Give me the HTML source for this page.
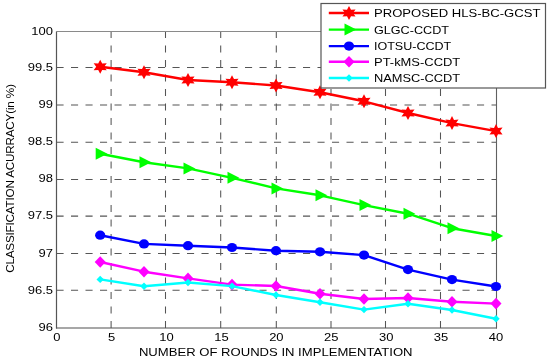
<!DOCTYPE html>
<html><head><meta charset="utf-8"><title>Classification accuracy</title>
<style>html,body{margin:0;padding:0;background:#fff;width:550px;height:360px;overflow:hidden}</style>
</head><body>
<svg width="550" height="360" viewBox="0 0 550 360" style="display:block"><rect width="550" height="360" fill="#fff"/><g stroke="#555" stroke-width="1.05" stroke-dasharray="7.1 7.4" fill="none"><line x1="111.10" y1="328.0" x2="111.10" y2="31.5"/><line x1="165.50" y1="328.0" x2="165.50" y2="31.5"/><line x1="220.70" y1="328.0" x2="220.70" y2="31.5"/><line x1="276.30" y1="328.0" x2="276.30" y2="31.5"/><line x1="331.00" y1="328.0" x2="331.00" y2="31.5"/><line x1="385.50" y1="328.0" x2="385.50" y2="31.5"/><line x1="440.50" y1="328.0" x2="440.50" y2="31.5"/><line x1="56.5" y1="290.30" x2="496.5" y2="290.30"/><line x1="56.5" y1="253.40" x2="496.5" y2="253.40"/><line x1="56.5" y1="216.10" x2="496.5" y2="216.10"/><line x1="56.5" y1="179.50" x2="496.5" y2="179.50"/><line x1="56.5" y1="142.30" x2="496.5" y2="142.30"/><line x1="56.5" y1="104.90" x2="496.5" y2="104.90"/><line x1="56.5" y1="67.50" x2="496.5" y2="67.50"/></g><line x1="56.5" y1="31.5" x2="496.5" y2="31.5" stroke="#8a8a8a" stroke-width="1.1"/><line x1="56.0" y1="328.0" x2="497.0" y2="328.0" stroke="#505050" stroke-width="1.1"/><line x1="56.5" y1="31.5" x2="56.5" y2="328.5" stroke="#555" stroke-width="1.2"/><line x1="496.5" y1="31.5" x2="496.5" y2="328.5" stroke="#606060" stroke-width="1.1"/><g font-family='"Liberation Sans", Arial, Helvetica, sans-serif' fill="#000"><text x="53.19" y="340.80" font-size="11.2" textLength="7.23" lengthAdjust="spacingAndGlyphs">0</text><text x="108.09" y="340.80" font-size="11.2" textLength="7.23" lengthAdjust="spacingAndGlyphs">5</text><text x="159.37" y="340.80" font-size="11.2" textLength="14.45" lengthAdjust="spacingAndGlyphs">10</text><text x="214.27" y="340.80" font-size="11.2" textLength="14.45" lengthAdjust="spacingAndGlyphs">15</text><text x="269.17" y="340.80" font-size="11.2" textLength="14.45" lengthAdjust="spacingAndGlyphs">20</text><text x="324.07" y="340.80" font-size="11.2" textLength="14.45" lengthAdjust="spacingAndGlyphs">25</text><text x="378.97" y="340.80" font-size="11.2" textLength="14.45" lengthAdjust="spacingAndGlyphs">30</text><text x="433.87" y="340.80" font-size="11.2" textLength="14.45" lengthAdjust="spacingAndGlyphs">35</text><text x="488.77" y="340.80" font-size="11.2" textLength="14.45" lengthAdjust="spacingAndGlyphs">40</text><text x="38.55" y="330.90" font-size="11.2" textLength="14.45" lengthAdjust="spacingAndGlyphs">96</text><text x="27.71" y="293.76" font-size="11.2" textLength="25.29" lengthAdjust="spacingAndGlyphs">96.5</text><text x="38.55" y="256.63" font-size="11.2" textLength="14.45" lengthAdjust="spacingAndGlyphs">97</text><text x="27.71" y="219.49" font-size="11.2" textLength="25.29" lengthAdjust="spacingAndGlyphs">97.5</text><text x="38.55" y="182.36" font-size="11.2" textLength="14.45" lengthAdjust="spacingAndGlyphs">98</text><text x="27.71" y="145.22" font-size="11.2" textLength="25.29" lengthAdjust="spacingAndGlyphs">98.5</text><text x="38.55" y="108.09" font-size="11.2" textLength="14.45" lengthAdjust="spacingAndGlyphs">99</text><text x="27.71" y="70.95" font-size="11.2" textLength="25.29" lengthAdjust="spacingAndGlyphs">99.5</text><text x="31.32" y="34.90" font-size="11.2" textLength="21.68" lengthAdjust="spacingAndGlyphs">100</text></g><g font-family='"Liberation Sans", Arial, Helvetica, sans-serif' fill="#000"><text x="138.90" y="355.70" font-size="11.5" textLength="273.63" lengthAdjust="spacingAndGlyphs">NUMBER OF ROUNDS IN IMPLEMENTATION</text></g><text transform="translate(14.3,272.8) rotate(-90)" font-family='"Liberation Sans", Arial, Helvetica, sans-serif' font-size="11.7" textLength="188.6" lengthAdjust="spacing">CLASSIFICATION ACURRACY(in %)</text><polyline points="100.2,66.7 144,72.2 188,80.0 232,82.2 276,85.5 320,92.2 364,101.3 408,113 452,123.1 496,131.1" fill="none" stroke="#ff0000" stroke-width="2.4" stroke-linejoin="round"/><g fill="#ff0000"><polygon points="100.20,59.70 102.20,63.49 106.75,63.20 104.21,66.70 106.75,70.20 102.20,69.91 100.20,73.70 98.20,69.91 93.65,70.20 96.19,66.70 93.65,63.20 98.20,63.49"/><polygon points="144.00,65.20 146.00,68.99 150.55,68.70 148.01,72.20 150.55,75.70 146.00,75.41 144.00,79.20 142.00,75.41 137.45,75.70 139.99,72.20 137.45,68.70 142.00,68.99"/><polygon points="188.00,73.00 190.00,76.79 194.55,76.50 192.01,80.00 194.55,83.50 190.00,83.21 188.00,87.00 186.00,83.21 181.45,83.50 183.99,80.00 181.45,76.50 186.00,76.79"/><polygon points="232.00,75.20 234.00,78.99 238.55,78.70 236.01,82.20 238.55,85.70 234.00,85.41 232.00,89.20 230.00,85.41 225.45,85.70 227.99,82.20 225.45,78.70 230.00,78.99"/><polygon points="276.00,78.50 278.00,82.29 282.55,82.00 280.01,85.50 282.55,89.00 278.00,88.71 276.00,92.50 274.00,88.71 269.45,89.00 271.99,85.50 269.45,82.00 274.00,82.29"/><polygon points="320.00,85.20 322.00,88.99 326.55,88.70 324.01,92.20 326.55,95.70 322.00,95.41 320.00,99.20 318.00,95.41 313.45,95.70 315.99,92.20 313.45,88.70 318.00,88.99"/><polygon points="364.00,94.30 366.00,98.09 370.55,97.80 368.01,101.30 370.55,104.80 366.00,104.51 364.00,108.30 362.00,104.51 357.45,104.80 359.99,101.30 357.45,97.80 362.00,98.09"/><polygon points="408.00,106.00 410.00,109.79 414.55,109.50 412.01,113.00 414.55,116.50 410.00,116.21 408.00,120.00 406.00,116.21 401.45,116.50 403.99,113.00 401.45,109.50 406.00,109.79"/><polygon points="452.00,116.10 454.00,119.89 458.55,119.60 456.01,123.10 458.55,126.60 454.00,126.31 452.00,130.10 450.00,126.31 445.45,126.60 447.99,123.10 445.45,119.60 450.00,119.89"/><polygon points="496.00,124.10 498.00,127.89 502.55,127.60 500.01,131.10 502.55,134.60 498.00,134.31 496.00,138.10 494.00,134.31 489.45,134.60 491.99,131.10 489.45,127.60 494.00,127.89"/></g><polyline points="100.2,153.8 144,162.3 188,168.4 232,177.8 276,188.4 320,195.3 364,205.1 408,213.7 452,228.2 496,236" fill="none" stroke="#00ff00" stroke-width="2.4" stroke-linejoin="round"/><g fill="#00ff00"><polygon points="107.50,153.80 95.70,147.80 95.70,159.80"/><polygon points="151.30,162.30 139.50,156.30 139.50,168.30"/><polygon points="195.30,168.40 183.50,162.40 183.50,174.40"/><polygon points="239.30,177.80 227.50,171.80 227.50,183.80"/><polygon points="283.30,188.40 271.50,182.40 271.50,194.40"/><polygon points="327.30,195.30 315.50,189.30 315.50,201.30"/><polygon points="371.30,205.10 359.50,199.10 359.50,211.10"/><polygon points="415.30,213.70 403.50,207.70 403.50,219.70"/><polygon points="459.30,228.20 447.50,222.20 447.50,234.20"/><polygon points="503.30,236.00 491.50,230.00 491.50,242.00"/></g><polyline points="100.2,235.2 144,243.9 188,245.7 232,247.5 276,250.7 320,251.8 364,255.1 408,269.6 452,279.6 496,286.5" fill="none" stroke="#0000ff" stroke-width="2.4" stroke-linejoin="round"/><g fill="#0000ff"><ellipse cx="100.20" cy="235.20" rx="5.1" ry="4.6"/><ellipse cx="144.00" cy="243.90" rx="5.1" ry="4.6"/><ellipse cx="188.00" cy="245.70" rx="5.1" ry="4.6"/><ellipse cx="232.00" cy="247.50" rx="5.1" ry="4.6"/><ellipse cx="276.00" cy="250.70" rx="5.1" ry="4.6"/><ellipse cx="320.00" cy="251.80" rx="5.1" ry="4.6"/><ellipse cx="364.00" cy="255.10" rx="5.1" ry="4.6"/><ellipse cx="408.00" cy="269.60" rx="5.1" ry="4.6"/><ellipse cx="452.00" cy="279.60" rx="5.1" ry="4.6"/><ellipse cx="496.00" cy="286.50" rx="5.1" ry="4.6"/></g><polyline points="100.2,262 144,271.7 188,278.4 232,284.6 276,286 320,293.7 364,299 408,298 452,301.7 496,303.6" fill="none" stroke="#ff00ff" stroke-width="2.4" stroke-linejoin="round"/><g fill="#ff00ff"><polygon points="100.20,256.20 105.70,262.00 100.20,267.80 94.70,262.00"/><polygon points="144.00,265.90 149.50,271.70 144.00,277.50 138.50,271.70"/><polygon points="188.00,272.60 193.50,278.40 188.00,284.20 182.50,278.40"/><polygon points="232.00,278.80 237.50,284.60 232.00,290.40 226.50,284.60"/><polygon points="276.00,280.20 281.50,286.00 276.00,291.80 270.50,286.00"/><polygon points="320.00,287.90 325.50,293.70 320.00,299.50 314.50,293.70"/><polygon points="364.00,293.20 369.50,299.00 364.00,304.80 358.50,299.00"/><polygon points="408.00,292.20 413.50,298.00 408.00,303.80 402.50,298.00"/><polygon points="452.00,295.90 457.50,301.70 452.00,307.50 446.50,301.70"/><polygon points="496.00,297.80 501.50,303.60 496.00,309.40 490.50,303.60"/></g><polyline points="100.2,279.4 144,286.3 188,282.5 232,286.1 276,295 320,302.3 364,309.6 408,303.8 452,310 496,318.7" fill="none" stroke="#00ffff" stroke-width="2.4" stroke-linejoin="round"/><g fill="#00ffff"><polygon points="100.20,275.70 103.90,279.40 100.20,283.10 96.50,279.40"/><polygon points="144.00,282.60 147.70,286.30 144.00,290.00 140.30,286.30"/><polygon points="188.00,278.80 191.70,282.50 188.00,286.20 184.30,282.50"/><polygon points="232.00,282.40 235.70,286.10 232.00,289.80 228.30,286.10"/><polygon points="276.00,291.30 279.70,295.00 276.00,298.70 272.30,295.00"/><polygon points="320.00,298.60 323.70,302.30 320.00,306.00 316.30,302.30"/><polygon points="364.00,305.90 367.70,309.60 364.00,313.30 360.30,309.60"/><polygon points="408.00,300.10 411.70,303.80 408.00,307.50 404.30,303.80"/><polygon points="452.00,306.30 455.70,310.00 452.00,313.70 448.30,310.00"/><polygon points="496.00,315.00 499.70,318.70 496.00,322.40 492.30,318.70"/></g><rect x="321.0" y="3.5" width="224.5" height="84.5" fill="#fff" stroke="#555" stroke-width="1.2"/><line x1="328.8" y1="13.0" x2="369" y2="13.0" stroke="#ff0000" stroke-width="2.4"/><g fill="#ff0000"><polygon points="349.00,6.00 351.00,9.79 355.55,9.50 353.01,13.00 355.55,16.50 351.00,16.21 349.00,20.00 347.00,16.21 342.45,16.50 344.99,13.00 342.45,9.50 347.00,9.79"/></g><g font-family='"Liberation Sans", Arial, Helvetica, sans-serif' fill="#000"><text x="374.00" y="17.00" font-size="11.4" textLength="166.38" lengthAdjust="spacingAndGlyphs">PROPOSED HLS-BC-GCST</text></g><line x1="328.8" y1="29.6" x2="369" y2="29.6" stroke="#00ff00" stroke-width="2.4"/><g fill="#00ff00"><polygon points="356.30,29.60 344.50,23.60 344.50,35.60"/></g><g font-family='"Liberation Sans", Arial, Helvetica, sans-serif' fill="#000"><text x="374.00" y="33.60" font-size="11.4" textLength="74.95" lengthAdjust="spacingAndGlyphs">GLGC-CCDT</text></g><line x1="328.8" y1="46.1" x2="369" y2="46.1" stroke="#0000ff" stroke-width="2.4"/><g fill="#0000ff"><ellipse cx="349.00" cy="46.10" rx="5.1" ry="4.6"/></g><g font-family='"Liberation Sans", Arial, Helvetica, sans-serif' fill="#000"><text x="374.00" y="50.10" font-size="11.4" textLength="77.25" lengthAdjust="spacingAndGlyphs">IOTSU-CCDT</text></g><line x1="328.8" y1="61.7" x2="369" y2="61.7" stroke="#ff00ff" stroke-width="2.4"/><g fill="#ff00ff"><polygon points="349.00,55.90 354.50,61.70 349.00,67.50 343.50,61.70"/></g><g font-family='"Liberation Sans", Arial, Helvetica, sans-serif' fill="#000"><text x="374.00" y="65.70" font-size="11.4" textLength="86.25" lengthAdjust="spacingAndGlyphs">PT-kMS-CCDT</text></g><line x1="328.8" y1="78.0" x2="369" y2="78.0" stroke="#00ffff" stroke-width="2.4"/><g fill="#00ffff"><polygon points="349.00,74.30 352.70,78.00 349.00,81.70 345.30,78.00"/></g><g font-family='"Liberation Sans", Arial, Helvetica, sans-serif' fill="#000"><text x="374.00" y="82.00" font-size="11.4" textLength="86.21" lengthAdjust="spacingAndGlyphs">NAMSC-CCDT</text></g></svg>
</body></html>
